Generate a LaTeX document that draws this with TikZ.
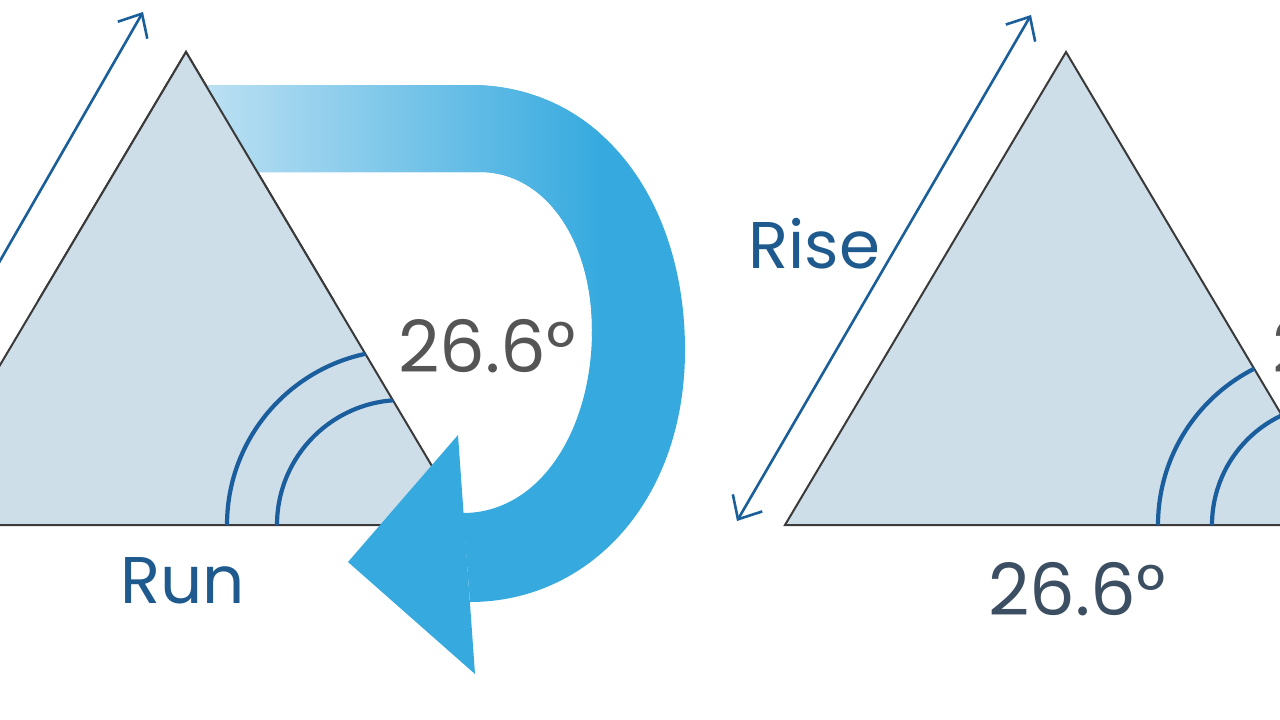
\documentclass[tikz,border=0pt]{standalone}
\usepackage{fontspec}
\setmainfont{Poppins}
\usetikzlibrary{arrows.meta}
\definecolor{trifill}{HTML}{CEDEE9}
\definecolor{triline}{HTML}{3A3A3A}
\definecolor{arrline}{HTML}{1A5F9A}
\definecolor{arcblue}{HTML}{1B5E9E}
\definecolor{bandlight}{HTML}{BEE1F3}
\definecolor{bandfull}{HTML}{36AADF}
\definecolor{labblue}{HTML}{1E5A8E}
\definecolor{laggrey}{HTML}{555555}
\definecolor{labslate}{HTML}{3C4F62}
\tikzset{
  tri/.style={fill=trifill,draw=triline,line width=2pt,line join=miter},
  sidearrow/.style={draw=arrline,line width=2.6pt,line cap=round},
  anglearc/.style={draw=arcblue,line width=4.2pt},
  biglabel/.style={anchor=base west,inner sep=0pt,font=\fontsize{66}{66}\selectfont},
  anglabel/.style={anchor=base west,inner sep=0pt,font=\fontsize{72}{72}\selectfont},
}
\begin{document}
\begin{tikzpicture}[x=1pt,y=-1pt]
\useasboundingbox (0,0) rectangle (1280,720);
\fill[white] (0,0) rectangle (1280,720);
\clip (0,0) rectangle (1280,720);

% ---------- left triangle ----------
\coordinate (LA) at (-95,525);
\coordinate (LT) at (186,52);
\coordinate (LB) at (467,525);
\path[tri] (LA) -- (LT) -- (LB) -- cycle;
\begin{scope}
  \clip (LA) -- (LT) -- (LB) -- cycle;
  \draw[anglearc] (227,525) arc[start angle=180,end angle=300,radius=175];
  \draw[anglearc] (277,525) arc[start angle=180,end angle=300,radius=125];
\end{scope}

% left arrow
\coordinate (LS) at (-80,400);
\coordinate (LE) at (143,12);
\draw[sidearrow,-{Straight Barb[length=19pt,width=34pt,line width=2.6pt]}] (LS) -- (LE);

% ---------- curved arrow ----------
\def\bandpath{(190,85) -- (470,85) .. controls (600,85) and (685,200) .. (685,350)
  .. controls (685,500) and (590,602) .. (470,602) -- (463,513)
  .. controls (540,513) and (592,430) .. (592,330)
  .. controls (592,240) and (545,172) .. (480,172) -- (190,172) -- cycle}
\begin{scope}
  \clip \bandpath;
  \fill[bandfull] (150,60) rectangle (720,640);
  \shade[left color=bandlight,right color=bandfull] (200,60) rectangle (600,335);
  \fill[bandlight] (150,60) rectangle (200.5,335);
\end{scope}
\fill[bandfull] (458,435) -- (348,562) -- (475,674) -- cycle;

% redraw top of triangle over the band
\begin{scope}
  \clip (0,0) rectangle (400,300);
  \path[tri] (LA) -- (LT) -- (LB) -- cycle;
\end{scope}

% ---------- right triangle ----------
\coordinate (RA) at (785,525);
\coordinate (RT) at (1066,52);
\coordinate (RB) at (1347,525);
\path[tri] (RA) -- (RT) -- (RB) -- cycle;
\begin{scope}
  \clip (RA) -- (RT) -- (RB) -- cycle;
  \draw[anglearc] (1158,525) arc[start angle=180,end angle=300,radius=175];
  \draw[anglearc] (1212,525) arc[start angle=180,end angle=300,radius=121];
\end{scope}

% right double arrow
\coordinate (RS) at (737,521);
\coordinate (RE) at (1031,15);
\draw[sidearrow,{Straight Barb[length=19pt,width=34pt,line width=2.6pt]}-{Straight Barb[length=19pt,width=34pt,line width=2.6pt]}] (RS) -- (RE);

% ---------- labels ----------
\node[biglabel,text=labblue] (run) at (120,603) {Run};
\node[biglabel,text=labblue] (rise) at (748,268) {Rise};
\node[anglabel,text=laggrey] (angL) at (398,372) {26.6°};
\node[anglabel,text=labslate] (angR) at (988,615) {26.6°};
\node[anglabel,text=laggrey] (angE) at (1272,372) {26.6°};
\end{tikzpicture}
\end{document}
